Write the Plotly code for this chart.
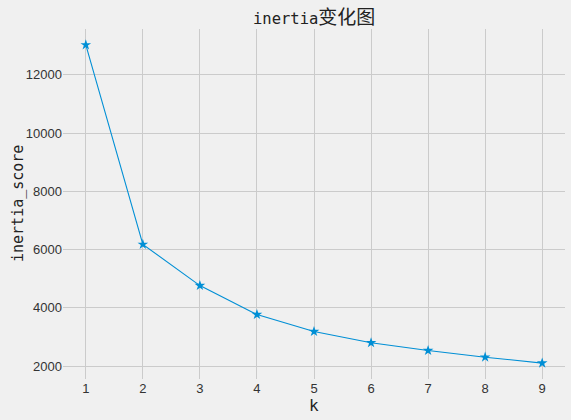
import plotly.graph_objects as go

k_values = [1, 2, 3, 4, 5, 6, 7, 8, 9]
inertia_scores = [13030, 6180, 4765, 3770, 3188, 2800, 2536, 2306, 2103]
y_ticks = [2000, 4000, 6000, 8000, 10000, 12000]
y_tick_labels = ["2000", "4000", "6000", "8000", "10000", "12000"]

MONO = "DejaVu Sans Mono, Noto Sans CJK SC, monospace"
SANS = "Liberation Sans, Arial, sans-serif"

fig = go.Figure()
fig.add_trace(go.Scatter(
    x=k_values, y=inertia_scores, mode="lines+markers",
    line=dict(color="#008fd5", width=1.1),
    marker=dict(symbol="star", size=8, color="#008fd5"),
    showlegend=False,
))

W, H = 571, 420
L, R, T, B = 63, 6, 29, 41

fig.update_layout(
    width=W, height=H,
    paper_bgcolor="#f0f0f0", plot_bgcolor="#f0f0f0",
    margin=dict(l=L, r=R, t=T, b=B, autoexpand=False),
    font=dict(family=SANS, color="#333333"),
    annotations=[
        dict(text='inertia<span style="font-family:Noto Sans CJK SC;font-size:19px">变化图</span>',
             xref="paper", yref="paper", x=0.5, y=1, yshift=14, xanchor="center", yanchor="middle",
             showarrow=False, font=dict(family=MONO, size=15.5, color="#222222")),
        dict(text="inertia_score", xref="paper", yref="paper", x=0, xshift=-45, y=0.5,
             textangle=-90, xanchor="center", yanchor="middle", showarrow=False,
             font=dict(family=MONO, size=15, color="#222222")),
        dict(text="k", xref="paper", yref="paper", x=0.5, y=0, yshift=-26,
             xanchor="center", yanchor="middle", showarrow=False,
             font=dict(family=MONO, size=16, color="#222222")),
    ],
)
fig.update_xaxes(
    range=[0.6, 9.4], tickvals=k_values, showgrid=True, gridcolor="#cbcbcb", gridwidth=1,
    zeroline=False, showline=False, ticks="", automargin=False,
    tickfont=dict(size=13, color="#333333"),
)
fig.update_yaxes(
    range=[1557, 13576], tickvals=y_ticks, ticktext=y_tick_labels, showgrid=True,
    gridcolor="#cbcbcb", gridwidth=1,
    zeroline=False, showline=False, ticks="", automargin=False,
    tickfont=dict(size=13, color="#333333"),
)

fig.write_html("out.html", config={"displayModeBar": False},
               post_script="document.body.style.margin='0';")
